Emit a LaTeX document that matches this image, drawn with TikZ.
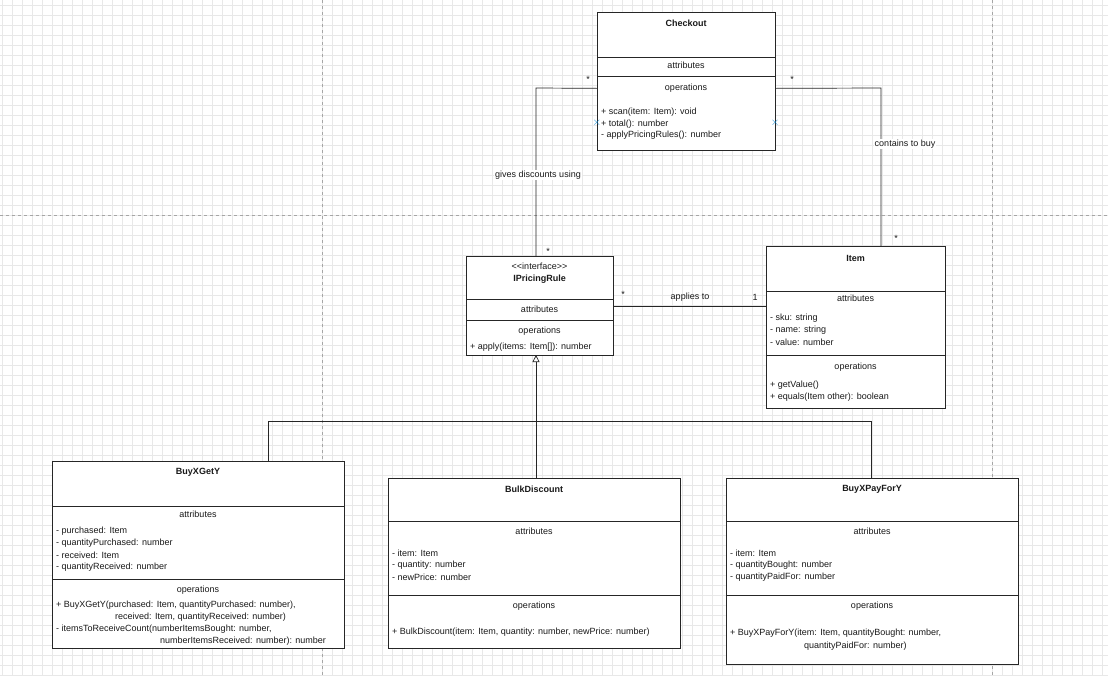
\documentclass[tikz,border=0pt]{standalone}
\usepackage{fontspec}
\setmainfont{Liberation Sans}
\usetikzlibrary{arrows.meta}
\begin{document}
\begin{tikzpicture}[x=1pt,y=-1pt,
  box/.style={draw=black!85,line width=0.7pt,fill=white,anchor=north west,inner sep=0pt},
  sep/.style={draw=black!85,line width=0.7pt},
  conn/.style={draw=black!85,line width=0.7pt},
  t/.style={font=\fontsize{9}{10}\selectfont,inner sep=0pt,text=black!90},
  tb/.style={t,font=\fontsize{9}{10}\selectfont\bfseries},
  tl/.style={t,anchor=west},
  lab/.style={t,fill=white,inner sep=1pt},
  selmark/.style={text=cyan!70!blue,font=\fontsize{11}{11}\selectfont\bfseries,inner sep=0pt}]
\useasboundingbox (0,0) rectangle (1108,675);
\fill[white] (0,0) rectangle (1108,675);
% grid
\foreach \i in {0,10,...,1100} \draw[black!9,line width=0.4pt] (\i+2,0) -- (\i+2,675);
\foreach \j in {0,10,...,670} \draw[black!9,line width=0.4pt] (0,\j+5) -- (1108,\j+5);
\draw[black!35,dashed,line width=0.5pt] (322,0) -- (322,675);
\draw[black!35,dashed,line width=0.5pt] (992,0) -- (992,675);
\draw[black!35,dashed,line width=0.5pt] (0,215) -- (1108,215);

% Checkout
\node[box,minimum width=178pt,minimum height=138pt] (chk) at (597,12) {};
\draw[sep] (597,57) -- (775,57);
\draw[sep] (597,76) -- (775,76);
\node[tb] (chkT) at (686,23) {Checkout};
\node[t] (chkA) at (686,65) {attributes};
\node[t] (chkO) at (686,88) {operations};
\node[tl] (chk1) at (601,112) {+ scan(item: Item): void};
\node[tl] (chk2) at (601,124) {+ total(): number};
\node[tl] (chk3) at (601,135) {- applyPricingRules(): number};
\node[selmark] (mk1) at (597,123) {$\times$};
\node[selmark] (mk2) at (775,123) {$\times$};

% IPricingRule
\node[box,minimum width=147pt,minimum height=99pt] (ipr) at (466,256) {};
\draw[sep] (466,299) -- (613,299);
\draw[sep] (466,320) -- (613,320);
\node[t] (iprS) at (539.5,266) {<{}<interface>{}>};
\node[tb] (iprT) at (539.5,279) {IPricingRule};
\node[t] (iprA) at (539.5,309) {attributes};
\node[t] (iprO) at (539.5,331) {operations};
\node[tl] (ipr1) at (470,347) {+ apply(items: Item[]): number};

% Item
\node[box,minimum width=179pt,minimum height=162pt] (item) at (766,246) {};
\draw[sep] (766,291) -- (945,291);
\draw[sep] (766,355) -- (945,355);
\node[tb] (itemT) at (855.5,258) {Item};
\node[t] (itemA) at (855.5,298) {attributes};
\node[tl] (item1) at (770,318) {- sku: string};
\node[tl] (item2) at (770,330) {- name: string};
\node[tl] (item3) at (770,342) {- value: number};
\node[t] (itemO) at (855.5,367) {operations};
\node[tl] (item4) at (770,385) {+ getValue()};
\node[tl] (item5) at (770,397) {+ equals(Item other): boolean};

% BuyXGetY
\node[box,minimum width=292pt,minimum height=187pt] (bxgy) at (52,461) {};
\draw[sep] (52,506) -- (344,506);
\draw[sep] (52,579) -- (344,579);
\node[tb] (bxgyT) at (198,472) {BuyXGetY};
\node[t] (bxgyA) at (198,514) {attributes};
\node[tl] (bxgy1) at (56,531) {- purchased: Item};
\node[tl] (bxgy2) at (56,543) {- quantityPurchased: number};
\node[tl] (bxgy3) at (56,555) {- received: Item};
\node[tl] (bxgy4) at (56,567) {- quantityReceived: number};
\node[t] (bxgyO) at (198,590) {operations};
\node[tl] (bxgy5) at (56,605) {+ BuyXGetY(purchased: Item, quantityPurchased: number),};
\node[tl] (bxgy6) at (115,617) {received: Item, quantityReceived: number)};
\node[tl] (bxgy7) at (56,629) {- itemsToReceiveCount(numberItemsBought: number,};
\node[tl] (bxgy8) at (160,641) {numberItemsReceived: number): number};

% BulkDiscount
\node[box,minimum width=292pt,minimum height=170pt] (bulk) at (388,478) {};
\draw[sep] (388,521) -- (680,521);
\draw[sep] (388,595) -- (680,595);
\node[tb] (bulkT) at (534,489) {BulkDiscount};
\node[t] (bulkA) at (534,531) {attributes};
\node[tl] (bulk1) at (392,553) {- item: Item};
\node[tl] (bulk2) at (392,565) {- quantity: number};
\node[tl] (bulk3) at (392,577) {- newPrice: number};
\node[t] (bulkO) at (534,606) {operations};
\node[tl] (bulk4) at (392,632) {+ BulkDiscount(item: Item, quantity: number, newPrice: number)};

% BuyXPayForY
\node[box,minimum width=292pt,minimum height=186pt] (bxpy) at (726,478) {};
\draw[sep] (726,521) -- (1018,521);
\draw[sep] (726,595) -- (1018,595);
\node[tb] (bxpyT) at (872,489) {BuyXPayForY};
\node[t] (bxpyA) at (872,531) {attributes};
\node[tl] (bxpy1) at (730,553) {- item: Item};
\node[tl] (bxpy2) at (730,565) {- quantityBought: number};
\node[tl] (bxpy3) at (730,577) {- quantityPaidFor: number};
\node[t] (bxpyO) at (872,606) {operations};
\node[tl] (bxpy4) at (730,633) {+ BuyXPayForY(item: Item, quantityBought: number,};
\node[tl] (bxpy5) at (804,646) {quantityPaidFor: number)};

% connectors
\coordinate (c1) at (536,88);
\draw[conn] ([yshift=-7pt]chk.west) -- (c1) -- (c1 |- ipr.north);
\node[lab] (l1) at (538,175) {gives discounts using};
\node[t] (s1) at (588,79) {*};
\node[t] (s2) at (548,251) {*};

\coordinate (c2) at (881,88);
\draw[conn] ([yshift=-7pt]chk.east) -- (c2) -- (c2 |- item.north);
\node[lab] (l2) at (905,144) {contains to buy};
\node[t] (s3) at (792,79) {*};
\node[t] (s4) at (896,238) {*};

\draw[conn] (ipr.east) -- (item.west |- ipr.east);
\node[t] (l3) at (690,297) {applies to};
\node[t] (s5) at (623,294) {*};
\node[t] (s6) at (755,297) {1};

\coordinate (h1) at (268,421);
\coordinate (h2) at (871,421);
\coordinate (c3) at (536,355);
\draw[conn] (h1 |- bxgy.north) -- (h1) -- (h2) -- (h2 |- bxpy.north);
\draw[conn,-{Triangle[open,length=7pt,width=7pt]}] (c3 |- bulk.north) -- (c3);
\end{tikzpicture}
\end{document}
